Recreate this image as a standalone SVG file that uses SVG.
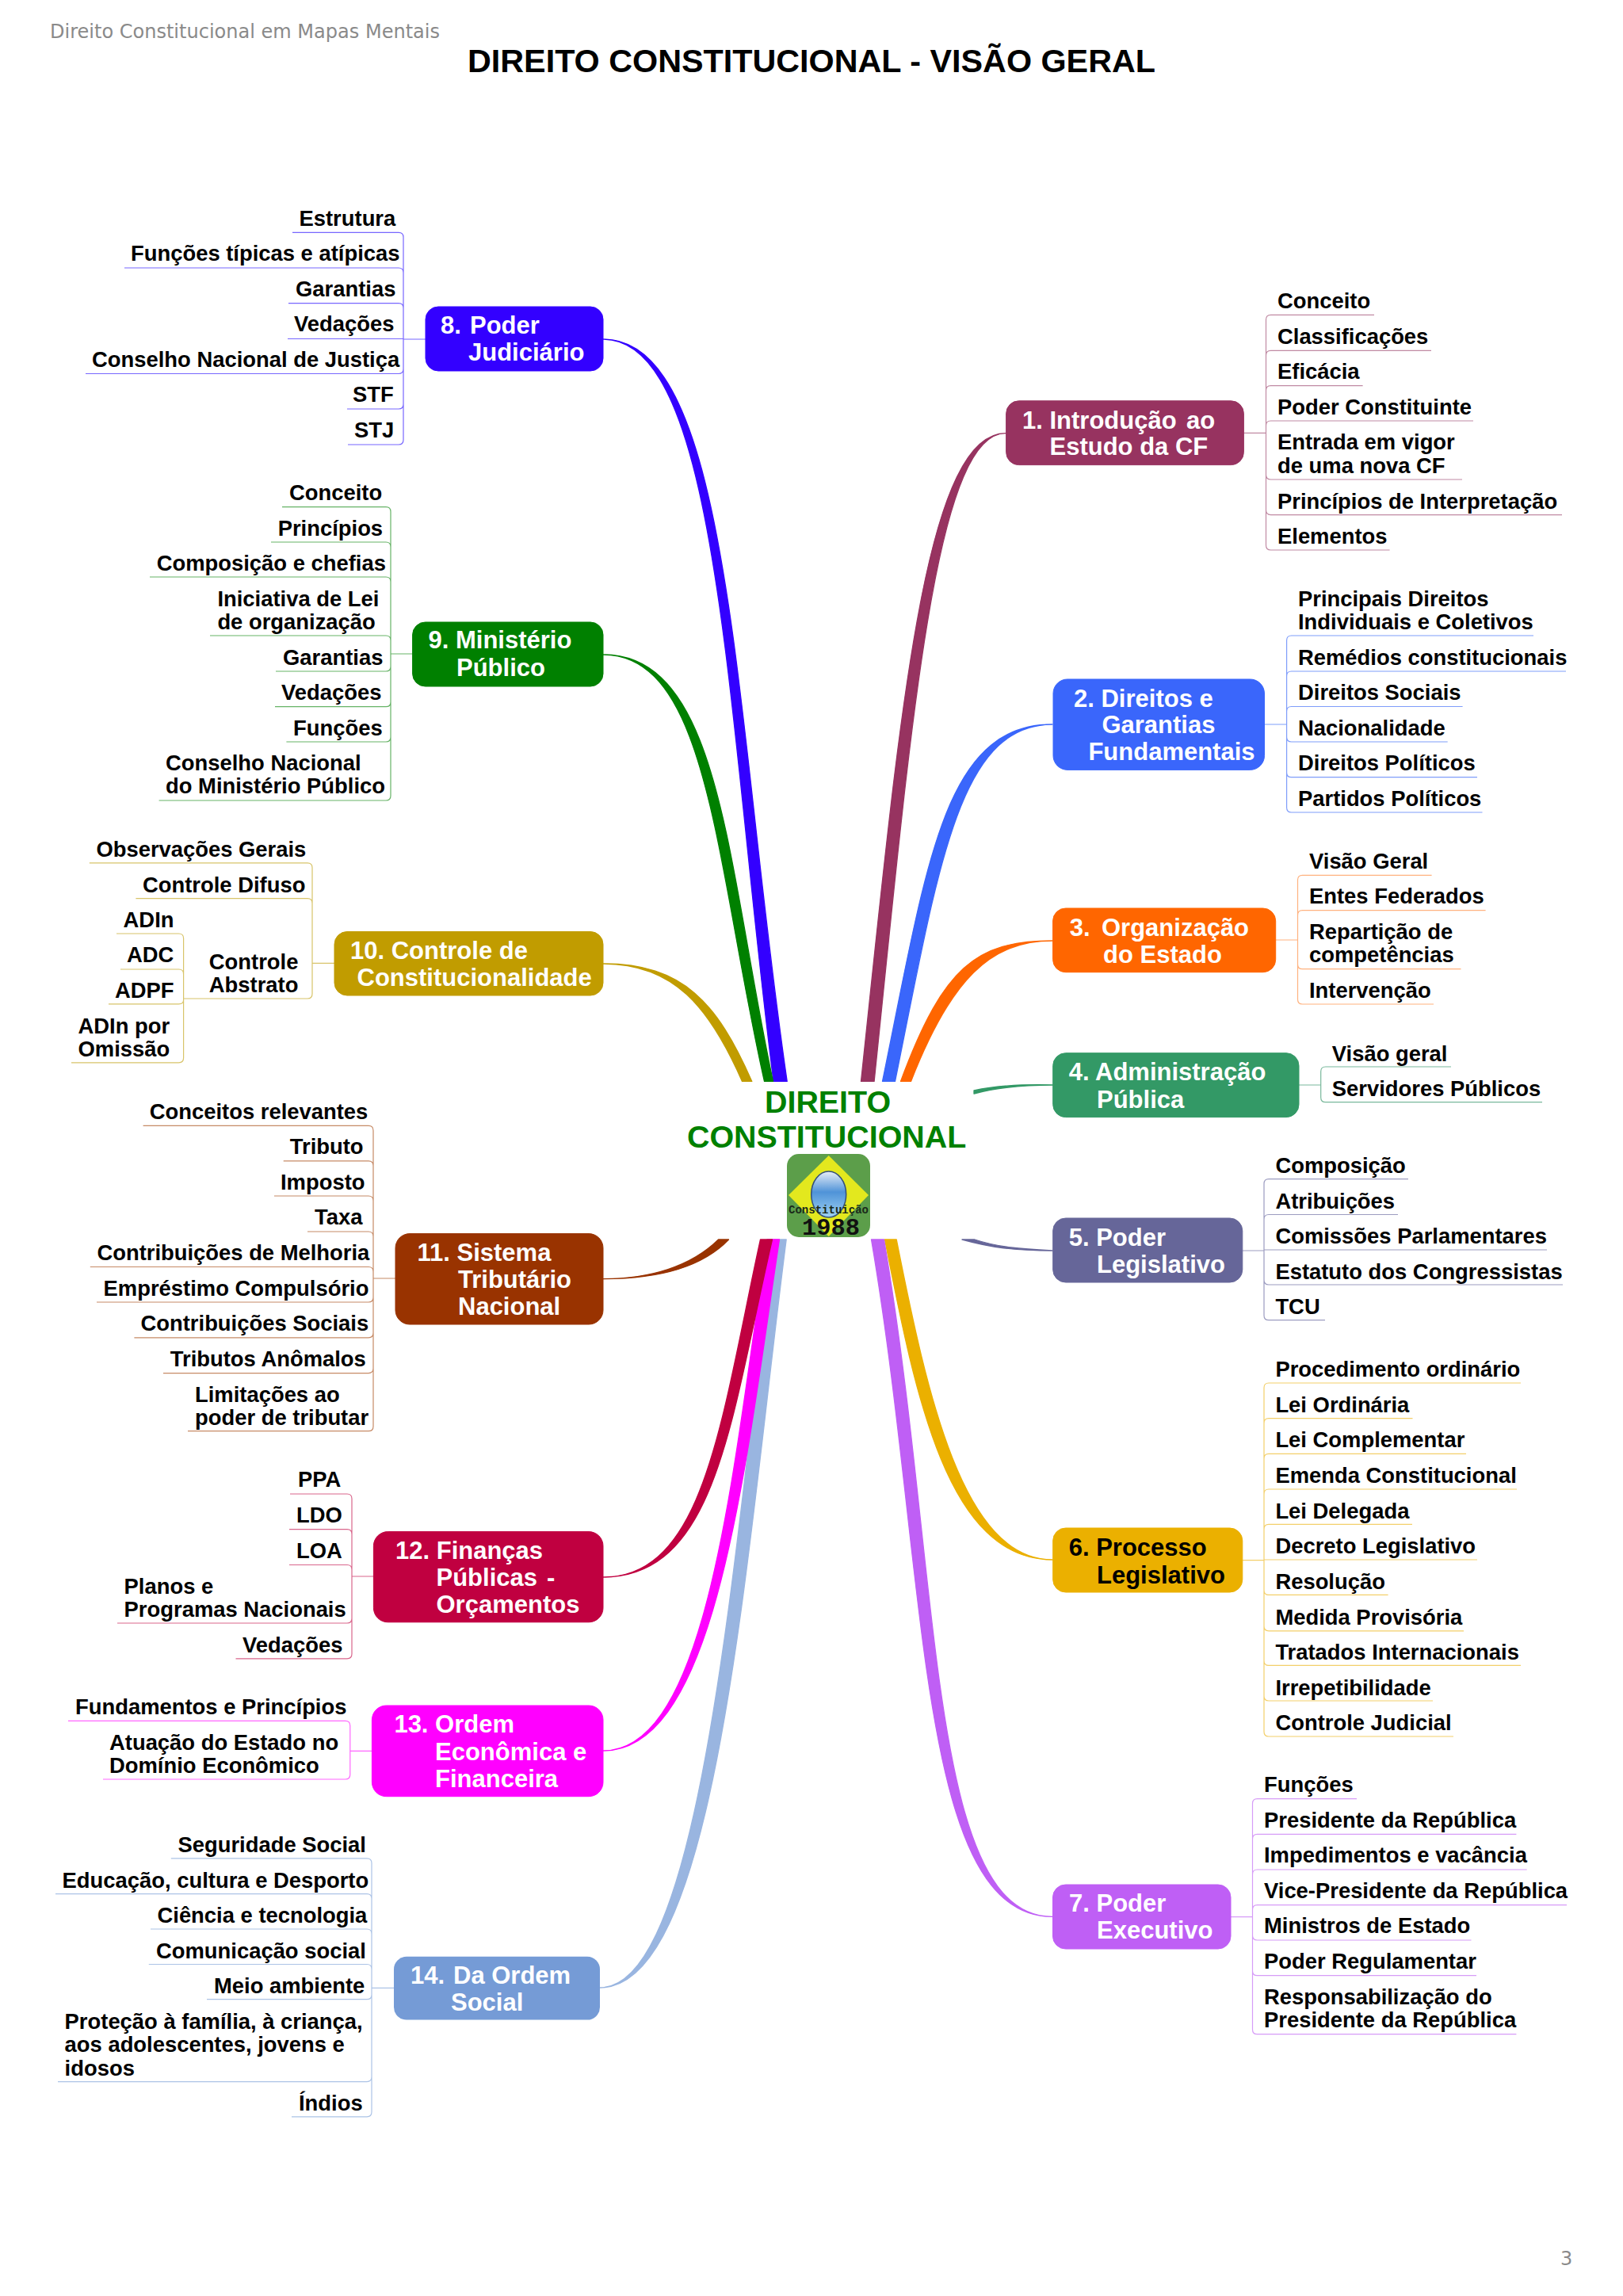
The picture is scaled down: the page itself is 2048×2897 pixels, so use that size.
<svg xmlns="http://www.w3.org/2000/svg" width="2048" height="2897" viewBox="0 0 2048 2897">
<style>
text{font-family:"Liberation Sans",Arial,sans-serif;font-weight:700;fill:#000}
.leaf{font-size:27.4px}
.nd{font-size:31px;fill:#fff}
.nd.dk{fill:#000}
.hub{font-size:39.4px;fill:#008000}
.title{font-size:41.3px}
.hdr{font-family:"DejaVu Sans",sans-serif;font-weight:400;font-size:24px;fill:#8a8a8a}
.ico1{font-family:"Liberation Mono",monospace;font-size:14px;fill:#1a2a1a}
.ico2{font-family:"Liberation Mono",monospace;font-size:30px;fill:#111}
.lk{fill:none;stroke-width:1.2}
#branches path{stroke-width:1.3;stroke-linejoin:round}
rect{stroke:none}
.l1{stroke:#c08aa3}.l2{stroke:#7f9dfa}.l3{stroke:#ffb27f}.l4{stroke:#79b89b}.l5{stroke:#9c9cc0}.l6{stroke:#f3cf6a}.l7{stroke:#d69cf7}.l8{stroke:#7766ff}.l9{stroke:#66b366}.l10{stroke:#d8c46a}.l11{stroke:#c68a66}.l12{stroke:#d9668c}.l13{stroke:#ff66ff}.l14{stroke:#acc3e6}
.b1{fill:#973360;stroke:#973360}.b2{fill:#3a66fb;stroke:#3a66fb}.b3{fill:#ff6600;stroke:#ff6600}.b4{fill:#339966;stroke:#339966}.b5{fill:#666699;stroke:#666699}.b6{fill:#ebb000;stroke:#ebb000}.b7{fill:#bf5ff5;stroke:#bf5ff5}.b8{fill:#3300ff;stroke:#3300ff}.b9{fill:#008000;stroke:#008000}.b10{fill:#c19c00;stroke:#c19c00}.b11{fill:#993300;stroke:#993300}.b12{fill:#c00040;stroke:#c00040}.b13{fill:#ff00ff;stroke:#ff00ff}.b14{fill:#99b5e0;stroke:#99b5e0}.b14n{fill:#759bd6}
</style>
<defs>
<linearGradient id="globe" x1="0" y1="0" x2="0" y2="1"><stop offset="0" stop-color="#e8eef8"/><stop offset=".45" stop-color="#4f93d8"/><stop offset="1" stop-color="#9fd2f2"/></linearGradient>
</defs>
<text class="hdr" x="63" y="48" textLength="492" lengthAdjust="spacingAndGlyphs">Direito Constitucional em Mapas Mentais</text>
<text class="title" x="590" y="90.5">DIREITO CONSTITUCIONAL - VISÃO GERAL</text>
<text class="hdr" x="1969" y="2858">3</text>

<g id="connectors">
<g id="branches">
<path class="b14" d="M757 2508C885 2508 925 1970 975 1564H992.2C940 1970 905 2508 757 2508Z"/>
<path class="b13" d="M761 2209C895 2209 925 1850 968 1564H983.5C940 1850 905 2209 761 2209Z"/>
<path class="b12" d="M761 1990C890 1990 910 1790 959.5 1564H974.5C922 1790 905 1990 761 1990Z"/>
<path class="b11" d="M761 1613.6C820 1613.6 872 1598 906.5 1564H919.5C885 1600 830 1613.6 761 1613.6Z"/>
<path class="b10" d="M761 1216C850 1216 895 1270 936.5 1364.4H948.8C905 1265 862 1216 761 1216Z"/>
<path class="b8" d="M761 428C908 428 917 900 976 1364.4H993.2C926 905 924 428 761 428Z"/>
<path class="b9" d="M761 826C895 826 903 1090 964.5 1364.4H975.5C917 1090 910 826 761 826Z"/>
<path class="b1" d="M1269 546.7C1165 546.7 1135 910 1086.5 1364.4H1103.1C1150 910 1180 546.7 1269 546.7Z"/>
<path class="b2" d="M1328 914C1190 914 1170 1090 1113.5 1364.4H1129.5C1185 1090 1210 914 1328 914Z"/>
<path class="b3" d="M1328 1187C1232 1187 1190 1220 1136.5 1364.4H1149.5C1200 1235 1250 1187 1328 1187Z"/>
<path class="b4" d="M1329 1369C1290 1368 1255 1370 1229 1376V1380C1255 1373 1290 1369 1329 1369Z"/>
<path class="b5" d="M1328 1578C1290 1576 1260 1574 1230 1564H1214C1250 1574 1280 1578 1328 1578Z"/>
<path class="b6" d="M1328 1968C1195 1968 1155 1760 1116.5 1564H1131.2C1170 1760 1215 1968 1328 1968Z"/>
<path class="b7" d="M1328 2418.4C1155 2418.4 1172 1990 1099.5 1564H1115.5C1188 1990 1170 2418.4 1328 2418.4Z"/>
</g>
<g id="leaf-links">
<path class="lk l8" d="M537 428H509M369 293.3H503Q509 293.3 509 299.3V428M157 338H503Q509 338 509 344V428M364 382.6H503Q509 382.6 509 388.6V428M363 427.5H509M108 471.5H503Q509 471.5 509 465.5V428M438 516H503Q509 516 509 510V428M439 561H503Q509 561 509 555V428"/>
<path class="lk l9" d="M520.6 825H493M356 639.7H487Q493 639.7 493 645.7V825M342 684H487Q493 684 493 690V825M189 728H487Q493 728 493 734V825M265 802H487Q493 802 493 808V825M348 847H487Q493 847 493 841V825M347 891.7H487Q493 891.7 493 885.7V825M361.4 936H487Q493 936 493 930V825M200.6 1010H487Q493 1010 493 1004V825"/>
<path class="lk l10" d="M422 1215.3H394M112.8 1088.8H388Q394 1088.8 394 1094.8V1215.3M171.4 1133.7H388Q394 1133.7 394 1139.7V1215.3M232 1260H388Q394 1260 394 1254V1215.3M147 1178H225.6Q231.6 1178 231.6 1184V1260M152 1223H225.6Q231.6 1223 231.6 1229V1260M137 1266.8H225.6Q231.6 1266.8 231.6 1262V1260M90 1340.8H225.6Q231.6 1340.8 231.6 1334.8V1260"/>
<path class="lk l11" d="M499 1613H471M180.6 1420.4H465Q471 1420.4 471 1426.4V1613M357.7 1464.8H465Q471 1464.8 471 1470.8V1613M346 1509H465Q471 1509 471 1515V1613M388 1554H465Q471 1554 471 1560V1613M113.8 1598.5H465Q471 1598.5 471 1604.5V1613M122 1643H465Q471 1643 471 1637V1613M169.4 1687.8H465Q471 1687.8 471 1681.8V1613M206 1732.6H465Q471 1732.6 471 1726.6V1613M237 1805.7H465Q471 1805.7 471 1799.7V1613"/>
<path class="lk l12" d="M471.4 1989H444M366 1885H438Q444 1885 444 1891V1989M365 1929.7H438Q444 1929.7 444 1935.7V1989M365 1974.5H438Q444 1974.5 444 1980.5V1989M148 2048H438Q444 2048 444 2042V1989M297.5 2092.8H438Q444 2092.8 444 2086.8V1989"/>
<path class="lk l13" d="M469.4 2209.3H441.8M86 2171.4H435.8Q441.8 2171.4 441.8 2177.4V2209.3M130 2245H435.8Q441.8 2245 441.8 2239V2209.3"/>
<path class="lk l14" d="M497 2508.4H469M215.8 2344.8H463Q469 2344.8 469 2350.8V2508.4M70 2389.6H463Q469 2389.6 469 2395.6V2508.4M190 2434H463Q469 2434 469 2440V2508.4M187.8 2478.5H463Q469 2478.5 469 2484.5V2508.4M261 2522.7H463Q469 2522.7 469 2516.7V2508.4M73 2626.6H463Q469 2626.6 469 2620.6V2508.4M368 2670.8H463Q469 2670.8 469 2664.8V2508.4"/>
<path class="lk l1" d="M1569.4 546.4H1597.5M1734 397.3H1603.5Q1597.5 397.3 1597.5 403.3V546.4M1806 442.4H1603.5Q1597.5 442.4 1597.5 448.4V546.4M1719.6 486.6H1603.5Q1597.5 486.6 1597.5 492.6V546.4M1859 531H1603.5Q1597.5 531 1597.5 537V546.4M1845 605H1603.5Q1597.5 605 1597.5 599V546.4M1971 649.6H1603.5Q1597.5 649.6 1597.5 643.6V546.4M1753.6 694H1603.5Q1597.5 694 1597.5 688V546.4"/>
<path class="lk l2" d="M1595.5 914H1623.6M1935 802H1629.6Q1623.6 802 1623.6 808V914M1976 847H1629.6Q1623.6 847 1623.6 853V914M1845.6 891.5H1629.6Q1623.6 891.5 1623.6 897.5V914M1826.7 936H1629.6Q1623.6 936 1623.6 930V914M1864 980.7H1629.6Q1623.6 980.7 1623.6 974.7V914M1870.5 1025H1629.6Q1623.6 1025 1623.6 1019V914"/>
<path class="lk l3" d="M1609.7 1186H1637.5M1806.6 1104.3H1643.5Q1637.5 1104.3 1637.5 1110.3V1186M1874.6 1148.7H1643.5Q1637.5 1148.7 1637.5 1154.7V1186M1843.5 1222.7H1643.5Q1637.5 1222.7 1637.5 1216.7V1186M1809 1267H1643.5Q1637.5 1267 1637.5 1261V1186"/>
<path class="lk l4" d="M1639 1369H1666.7M1831 1346H1672.7Q1666.7 1346 1666.7 1352V1369M1946 1390.7H1672.7Q1666.7 1390.7 1666.7 1384.7V1369"/>
<path class="lk l5" d="M1567.8 1578H1595M1777 1487.7H1601Q1595 1487.7 1595 1493.7V1578M1764 1532.5H1601Q1595 1532.5 1595 1538.5V1578M1952 1577H1595M1972 1621H1601Q1595 1621 1595 1615V1578M1672 1665.7H1601Q1595 1665.7 1595 1659.7V1578"/>
<path class="lk l6" d="M1567.8 1968.7H1595M1919 1745H1601Q1595 1745 1595 1751V1968.7M1782.5 1789.7H1601Q1595 1789.7 1595 1795.7V1968.7M1850 1834.4H1601Q1595 1834.4 1595 1840.4V1968.7M1914 1879H1601Q1595 1879 1595 1885V1968.7M1782 1923.4H1601Q1595 1923.4 1595 1929.4V1968.7M1864 1968H1595M1751.6 2012.4H1601Q1595 2012.4 1595 2006.4V1968.7M1847 2057.8H1601Q1595 2057.8 1595 2051.8V1968.7M1919 2101.4H1601Q1595 2101.4 1595 2095.4V1968.7M1808 2146H1601Q1595 2146 1595 2140V1968.7M1834 2191H1601Q1595 2191 1595 2185V1968.7"/>
<path class="lk l7" d="M1553 2418.7H1580.5M1712 2269.7H1586.5Q1580.5 2269.7 1580.5 2275.7V2418.7M1913.4 2314.3H1586.5Q1580.5 2314.3 1580.5 2320.3V2418.7M1926.7 2359H1586.5Q1580.5 2359 1580.5 2365V2418.7M1977 2403.7H1586.5Q1580.5 2403.7 1580.5 2409.7V2418.7M1856.5 2448H1586.5Q1580.5 2448 1580.5 2442V2418.7M1863 2492.7H1586.5Q1580.5 2492.7 1580.5 2486.7V2418.7M1913.4 2566.7H1586.5Q1580.5 2566.7 1580.5 2560.7V2418.7"/>
</g>
</g>

<g id="hub">
<text class="hub" x="965" y="1404">DIREITO</text>
<text class="hub" x="867" y="1448">CONSTITUCIONAL</text>
<g id="hub-icon">
<rect x="993" y="1456" width="105" height="105" rx="15" fill="#5c9e4a"/>
<polygon points="1045.7,1458 1096,1508 1045.7,1560 995,1508" fill="#e3e81e"/>
<ellipse cx="1045.7" cy="1507" rx="22" ry="29" fill="url(#globe)" stroke="#33507a" stroke-width="1.5"/>
<text class="ico1" x="995" y="1531" textLength="101" lengthAdjust="spacingAndGlyphs">Constituição</text>
<text class="ico2" x="1012" y="1558" textLength="73" lengthAdjust="spacingAndGlyphs">1988</text>
</g>
</g>

<g id="node-1"><rect class="b1" x="1269.6" y="505.8" width="299.8" height="80.8" rx="16"/><text class="nd" x="1290" y="541">1. Introdução <tspan x="1497">ao</tspan></text><text class="nd" x="1324.5" y="573.7">Estudo da CF</text></g>
<g id="node-2"><rect class="b2" x="1329" y="857" width="266.5" height="114.4" rx="18"/><text class="nd" x="1355" y="891.5">2. Direitos e</text><text class="nd" x="1390.4" y="925">Garantias</text><text class="nd" x="1373.4" y="959.4">Fundamentais</text></g>
<g id="node-3"><rect class="b3" x="1328.6" y="1146" width="281.1" height="80.7" rx="16"/><text class="nd" x="1349.8" y="1180.5">3. <tspan x="1390">Organização</tspan></text><text class="nd" x="1392" y="1214.5">do Estado</text></g>
<g id="node-4"><rect class="b4" x="1328.7" y="1328.7" width="310.3" height="80.9" rx="16"/><text class="nd" x="1348.7" y="1363">4. Administração</text><text class="nd" x="1384" y="1397.6">Pública</text></g>
<g id="node-5"><rect class="b5" x="1328.7" y="1537" width="239.1" height="81" rx="16"/><text class="nd" x="1348.7" y="1571.5">5. Poder</text><text class="nd" x="1384" y="1606">Legislativo</text></g>
<g id="node-6"><rect class="b6" x="1328.7" y="1928" width="239.1" height="81" rx="16"/><text class="nd dk" x="1348.7" y="1963">6. Processo</text><text class="nd dk" x="1384" y="1997.5">Legislativo</text></g>
<g id="node-7"><rect class="b7" x="1328.5" y="2378" width="224.5" height="81" rx="16"/><text class="nd" x="1349" y="2412">7. Poder</text><text class="nd" x="1384" y="2446">Executivo</text></g>
<g id="node-8"><rect class="b8" x="537" y="387" width="224" height="81" rx="16"/><text class="nd" x="556" y="421">8. <tspan x="593">Poder</tspan></text><text class="nd" x="591" y="455">Judiciário</text></g>
<g id="node-9"><rect class="b9" x="520.6" y="785" width="240.4" height="81" rx="16"/><text class="nd" x="540.5" y="818">9. Ministério</text><text class="nd" x="576" y="852.7">Público</text></g>
<g id="node-10"><rect class="b10" x="422" y="1175.5" width="339" height="80.5" rx="16"/><text class="nd" x="442" y="1209.7">10. Controle de</text><text class="nd" x="450.5" y="1244">Constitucionalidade</text></g>
<g id="node-11"><rect class="b11" x="499" y="1556.6" width="262" height="114.4" rx="18"/><text class="nd" x="526.5" y="1590.8">11. Sistema</text><text class="nd" x="578" y="1624.5">Tributário</text><text class="nd" x="578" y="1658.7">Nacional</text></g>
<g id="node-12"><rect class="b12" x="471.4" y="1932.6" width="289.6" height="114.2" rx="18"/><text class="nd" x="499" y="1966.5">12. Finanças</text><text class="nd" x="550.5" y="2001">Públicas <tspan x="690">-</tspan></text><text class="nd" x="550.5" y="2034.8">Orçamentos</text></g>
<g id="node-13"><rect class="b13" x="469.4" y="2152" width="291.6" height="114.7" rx="18"/><text class="nd" x="497.4" y="2185.8">13. Ordem</text><text class="nd" x="549" y="2220.8">Econômica e</text><text class="nd" x="549" y="2254.6">Financeira</text></g>
<g id="node-14"><rect class="b14n" x="497" y="2468.8" width="260" height="79.8" rx="16"/><text class="nd" x="518" y="2502.6">14. <tspan x="572">Da Ordem</tspan></text><text class="nd" x="569" y="2536.5">Social</text></g>

<g id="leaves">
<g id="n8-1"><text class="leaf" x="377.5" y="284.8">Estrutura</text></g>
<g id="n8-2"><text class="leaf" x="165" y="329">Funções típicas e atípicas</text></g>
<g id="n8-3"><text class="leaf" x="373" y="373.7">Garantias</text></g>
<g id="n8-4"><text class="leaf" x="371" y="418.3">Vedações</text></g>
<g id="n8-5"><text class="leaf" x="116" y="462.5">Conselho Nacional de Justiça</text></g>
<g id="n8-6"><text class="leaf" x="445" y="507">STF</text></g>
<g id="n8-7"><text class="leaf" x="447" y="551.8">STJ</text></g>

<g id="n9-1"><text class="leaf" x="365" y="630.7">Conceito</text></g>
<g id="n9-2"><text class="leaf" x="350.7" y="675.7">Princípios</text></g>
<g id="n9-3"><text class="leaf" x="197.7" y="720">Composição e chefias</text></g>
<g id="n9-4"><text class="leaf" x="274.4" y="764.7">Iniciativa de Lei</text><text class="leaf" x="274.4" y="793.7">de organização</text></g>
<g id="n9-5"><text class="leaf" x="357" y="838.7">Garantias</text></g>
<g id="n9-6"><text class="leaf" x="355" y="883">Vedações</text></g>
<g id="n9-7"><text class="leaf" x="370" y="927.7">Funções</text></g>
<g id="n9-8"><text class="leaf" x="209" y="972">Conselho Nacional</text><text class="leaf" x="209" y="1001">do Ministério Público</text></g>

<g id="n10-1"><text class="leaf" x="121.4" y="1080.6">Observações Gerais</text></g>
<g id="n10-2"><text class="leaf" x="180" y="1125.5">Controle Difuso</text></g>
<g id="n10-3"><text class="leaf" x="263.8" y="1223">Controle</text><text class="leaf" x="263.8" y="1252">Abstrato</text></g>
<g id="n10-4"><text class="leaf" x="155.6" y="1170">ADIn</text></g>
<g id="n10-5"><text class="leaf" x="160" y="1214">ADC</text></g>
<g id="n10-6"><text class="leaf" x="145" y="1258.7">ADPF</text></g>
<g id="n10-7"><text class="leaf" x="98.5" y="1303.6">ADIn por</text><text class="leaf" x="98.5" y="1332.7">Omissão</text></g>

<g id="n11-1"><text class="leaf" x="188.8" y="1411.7">Conceitos relevantes</text></g>
<g id="n11-2"><text class="leaf" x="365.8" y="1456">Tributo</text></g>
<g id="n11-3"><text class="leaf" x="354" y="1501">Imposto</text></g>
<g id="n11-4"><text class="leaf" x="397" y="1545">Taxa</text></g>
<g id="n11-5"><text class="leaf" x="122.4" y="1590">Contribuições de Melhoria</text></g>
<g id="n11-6"><text class="leaf" x="130.6" y="1634.7">Empréstimo Compulsório</text></g>
<g id="n11-7"><text class="leaf" x="177.5" y="1679">Contribuições Sociais</text></g>
<g id="n11-8"><text class="leaf" x="214.8" y="1724">Tributos Anômalos</text></g>
<g id="n11-9"><text class="leaf" x="246" y="1768.9">Limitações ao</text><text class="leaf" x="246" y="1798">poder de tributar</text></g>

<g id="n12-1"><text class="leaf" x="376" y="1876">PPA</text></g>
<g id="n12-2"><text class="leaf" x="374" y="1921">LDO</text></g>
<g id="n12-3"><text class="leaf" x="374" y="1966">LOA</text></g>
<g id="n12-4"><text class="leaf" x="156.6" y="2010.7">Planos e</text><text class="leaf" x="156.6" y="2040">Programas Nacionais</text></g>
<g id="n12-5"><text class="leaf" x="306" y="2084.7">Vedações</text></g>

<g id="n13-1"><text class="leaf" x="95" y="2163.4">Fundamentos e Princípios</text></g>
<g id="n13-2"><text class="leaf" x="138" y="2208">Atuação do Estado no</text><text class="leaf" x="138" y="2237.4">Domínio Econômico</text></g>

<g id="n14-1"><text class="leaf" x="224.5" y="2337">Seguridade Social</text></g>
<g id="n14-2"><text class="leaf" x="78.6" y="2381.5">Educação, cultura e Desporto</text></g>
<g id="n14-3"><text class="leaf" x="198.5" y="2426">Ciência e tecnologia</text></g>
<g id="n14-4"><text class="leaf" x="197" y="2470.5">Comunicação social</text></g>
<g id="n14-5"><text class="leaf" x="270" y="2515">Meio ambiente</text></g>
<g id="n14-6"><text class="leaf" x="81.6" y="2560">Proteção à família, à criança,</text><text class="leaf" x="81.6" y="2589.3">aos adolescentes, jovens e</text><text class="leaf" x="81.6" y="2618.6">idosos</text></g>
<g id="n14-7"><text class="leaf" x="377" y="2662.8">Índios</text></g>

<g id="n1-1"><text class="leaf" x="1612" y="389">Conceito</text></g>
<g id="n1-2"><text class="leaf" x="1612" y="434">Classificações</text></g>
<g id="n1-3"><text class="leaf" x="1612" y="478">Eficácia</text></g>
<g id="n1-4"><text class="leaf" x="1612" y="522.8">Poder Constituinte</text></g>
<g id="n1-5"><text class="leaf" x="1612" y="567.4">Entrada em vigor</text><text class="leaf" x="1612" y="597">de uma nova CF</text></g>
<g id="n1-6"><text class="leaf" x="1612" y="641.5">Princípios de Interpretação</text></g>
<g id="n1-7"><text class="leaf" x="1612" y="686">Elementos</text></g>

<g id="n2-1"><text class="leaf" x="1638" y="765">Principais Direitos</text><text class="leaf" x="1638" y="794">Individuais e Coletivos</text></g>
<g id="n2-2"><text class="leaf" x="1638" y="839">Remédios constitucionais</text></g>
<g id="n2-3"><text class="leaf" x="1638" y="883">Direitos Sociais</text></g>
<g id="n2-4"><text class="leaf" x="1638" y="927.7">Nacionalidade</text></g>
<g id="n2-5"><text class="leaf" x="1638" y="972">Direitos Políticos</text></g>
<g id="n2-6"><text class="leaf" x="1638" y="1016.7">Partidos Políticos</text></g>

<g id="n3-1"><text class="leaf" x="1652" y="1095.5">Visão Geral</text></g>
<g id="n3-2"><text class="leaf" x="1652" y="1140">Entes Federados</text></g>
<g id="n3-3"><text class="leaf" x="1652" y="1184.5">Repartição de</text><text class="leaf" x="1652" y="1213.5">competências</text></g>
<g id="n3-4"><text class="leaf" x="1652" y="1258.5">Intervenção</text></g>

<g id="n4-1"><text class="leaf" x="1680.8" y="1338.5">Visão geral</text></g>
<g id="n4-2"><text class="leaf" x="1680.8" y="1383">Servidores Públicos</text></g>

<g id="n5-1"><text class="leaf" x="1609.4" y="1480">Composição</text></g>
<g id="n5-2"><text class="leaf" x="1609.4" y="1524.5">Atribuições</text></g>
<g id="n5-3"><text class="leaf" x="1609.4" y="1569">Comissões Parlamentares</text></g>
<g id="n5-4"><text class="leaf" x="1609.4" y="1614">Estatuto dos Congressistas</text></g>
<g id="n5-5"><text class="leaf" x="1609.4" y="1658">TCU</text></g>

<g id="n6-1"><text class="leaf" x="1609.4" y="1737.4">Procedimento ordinário</text></g>
<g id="n6-2"><text class="leaf" x="1609.4" y="1782">Lei Ordinária</text></g>
<g id="n6-3"><text class="leaf" x="1609.4" y="1826">Lei Complementar</text></g>
<g id="n6-4"><text class="leaf" x="1609.4" y="1871">Emenda Constitucional</text></g>
<g id="n6-5"><text class="leaf" x="1609.4" y="1916">Lei Delegada</text></g>
<g id="n6-6"><text class="leaf" x="1609.4" y="1960">Decreto Legislativo</text></g>
<g id="n6-7"><text class="leaf" x="1609.4" y="2005">Resolução</text></g>
<g id="n6-8"><text class="leaf" x="1609.4" y="2050">Medida Provisória</text></g>
<g id="n6-9"><text class="leaf" x="1609.4" y="2094">Tratados Internacionais</text></g>
<g id="n6-10"><text class="leaf" x="1609.4" y="2139">Irrepetibilidade</text></g>
<g id="n6-11"><text class="leaf" x="1609.4" y="2183">Controle Judicial</text></g>

<g id="n7-1"><text class="leaf" x="1595" y="2261">Funções</text></g>
<g id="n7-2"><text class="leaf" x="1595" y="2305.7">Presidente da República</text></g>
<g id="n7-3"><text class="leaf" x="1595" y="2350">Impedimentos e vacância</text></g>
<g id="n7-4"><text class="leaf" x="1595" y="2394.7">Vice-Presidente da República</text></g>
<g id="n7-5"><text class="leaf" x="1595" y="2439">Ministros de Estado</text></g>
<g id="n7-6"><text class="leaf" x="1595" y="2484">Poder Regulamentar</text></g>
<g id="n7-7"><text class="leaf" x="1595" y="2528.7">Responsabilização do</text><text class="leaf" x="1595" y="2557.7">Presidente da República</text></g>
</g>
</svg>
